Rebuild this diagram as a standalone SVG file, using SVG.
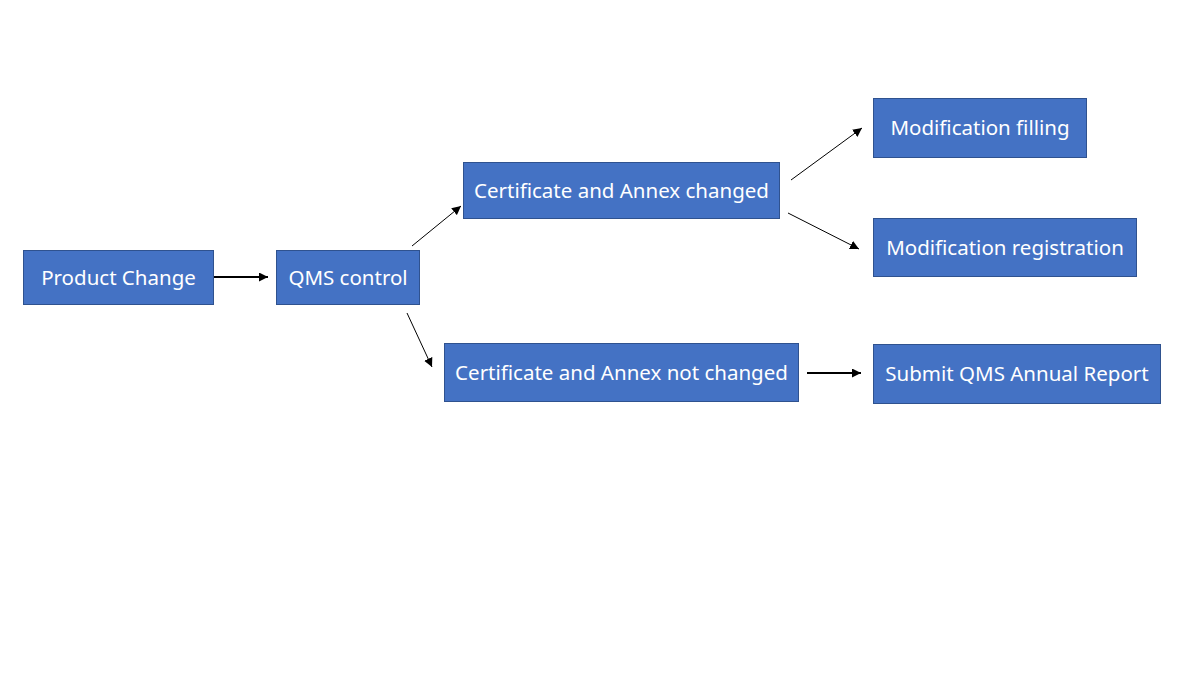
<svg xmlns="http://www.w3.org/2000/svg" width="1200" height="675" viewBox="0 0 1200 675">
<defs>
<style>
.box{fill:#4472C4;stroke:#2F528F;stroke-width:1}
.lbl{fill:#ffffff;font-family:"Noto Sans","Liberation Sans",sans-serif;font-size:20.5px;text-anchor:middle;dominant-baseline:central}
.con{stroke:#000;fill:none;stroke-width:1}
.thick{stroke-width:1.8}
</style>
<marker id="ah" viewBox="0 0 10 10" refX="10" refY="5" markerWidth="9" markerHeight="9" markerUnits="userSpaceOnUse" orient="auto">
<path d="M0,0 L10,5 L0,10 z" fill="#000"/>
</marker>
</defs>
<rect width="1200" height="675" fill="#ffffff"/>
<g id="connectors">
<line class="con thick" x1="214" y1="277" x2="268" y2="277" marker-end="url(#ah)"/>
<line class="con" x1="412" y1="246" x2="461" y2="206" marker-end="url(#ah)"/>
<line class="con" x1="407" y1="313" x2="432" y2="367" marker-end="url(#ah)"/>
<line class="con" x1="791" y1="180" x2="862" y2="128" marker-end="url(#ah)"/>
<line class="con" x1="788" y1="213" x2="859" y2="249" marker-end="url(#ah)"/>
<line class="con thick" x1="807" y1="373" x2="861" y2="373" marker-end="url(#ah)"/>
</g>
<g id="product-change">
<rect class="box" x="23.5" y="250.5" width="190" height="54"/>
<text class="lbl" x="118.5" y="277">Product Change</text>
</g>
<g id="qms-control">
<rect class="box" x="276.5" y="250.5" width="143" height="54"/>
<text class="lbl" x="348" y="277">QMS control</text>
</g>
<g id="cert-changed">
<rect class="box" x="463.5" y="162.5" width="316" height="56"/>
<text class="lbl" x="621.5" y="190">Certificate and Annex changed</text>
</g>
<g id="cert-not-changed">
<rect class="box" x="444.5" y="343.5" width="354" height="58"/>
<text class="lbl" x="621.5" y="372">Certificate and Annex not changed</text>
</g>
<g id="mod-filling">
<rect class="box" x="873.5" y="98.5" width="213" height="59"/>
<text class="lbl" x="980" y="127">Modification filling</text>
</g>
<g id="mod-registration">
<rect class="box" x="873.5" y="218.5" width="263" height="58"/>
<text class="lbl" x="1005" y="247">Modification registration</text>
</g>
<g id="submit-report">
<rect class="box" x="873.5" y="344.5" width="287" height="59"/>
<text class="lbl" x="1017" y="373">Submit QMS Annual Report</text>
</g>
</svg>
